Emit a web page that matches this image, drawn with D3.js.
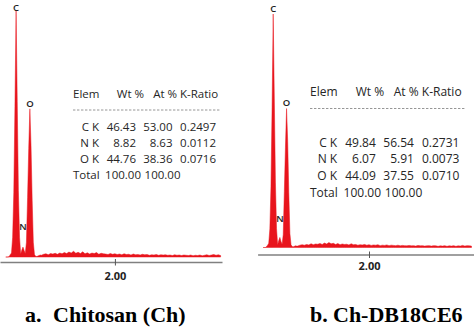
<!DOCTYPE html>
<html>
<head>
<meta charset="utf-8">
<script src="https://cdn.jsdelivr.net/npm/d3@7"></script>
<style>
  html, body { margin: 0; padding: 0; background: #fff; }
  svg { display: block; }
</style>
</head>
<body>
<svg id="chart" width="474" height="332"></svg>
<script>
// ---- EDS spectra -------------------------------------------------------
// Fine channels across the C / N / O K lines, coarse channels across the background.
const lowStart = 0.10, lowStep = 0.02;   // keV
const highStart = 0.72, highStep = 0.04; // keV

const elementLabels = ["C", "N", "O"];
const elementEnergy = [0.28, 0.40, 0.52]; // keV, channel of each peak maximum

// a. Chitosan (Ch)
const countsLowA = [
  0, 0, 0, 2, 10, 16, 80, 260, 610, 1000,
  630, 270, 80, 12, 28, 40, 26, 14, 60, 240,
  440, 600, 450, 230, 60, 10, 3, 2, 4, 6, 8
];
const countsHighA = [
  7, 11, 13, 9, 14, 12, 15, 11, 16, 13,
  18, 14, 20, 16, 23, 15, 19, 14, 21, 13,
  17, 12, 16, 14, 18, 11, 15, 13, 12, 10,
  14, 11, 13, 10, 12, 9, 13, 10, 11, 8,
  12, 9, 10, 8, 11, 9, 10, 7, 9, 8,
  10, 7, 9, 8, 9, 7, 8, 6, 9, 7,
  8, 6, 8, 7, 6, 8, 5, 7, 6, 8,
  5, 7, 9, 6, 8, 10, 7, 9, 6
];

// b. Ch-DB18CE6
const countsLowB = [
  0, 0, 0, 4, 10, 18, 80, 260, 600, 1000,
  640, 280, 80, 12, 30, 43, 26, 14, 55, 240,
  430, 595, 455, 235, 60, 12, 4, 3, 5, 7, 6
];
const countsHighB = [
  6, 10, 12, 10, 13, 11, 16, 12, 15, 14,
  17, 13, 19, 15, 21, 16, 18, 13, 17, 12,
  15, 13, 14, 11, 16, 12, 13, 10, 12, 11,
  13, 10, 12, 9, 11, 10, 12, 8, 10, 9,
  11, 8, 10, 9, 8, 10, 7, 9, 8, 7,
  9, 7, 8, 6, 9, 7, 8, 6, 7, 8,
  6, 8, 7, 5, 7, 6, 8, 5, 7, 6,
  8, 5, 7, 6, 9, 6, 8, 7, 6
];

// ---- Quantification tables ----------------------------------------------
const tableHeaders = ["Elem", "Wt %", "At %", "K-Ratio"];
const elemNames = ["C K", "N K", "O K"];
const wtA = [46.43, 8.82, 44.76];
const atA = [53.00, 8.63, 38.36];
const kA  = [0.2497, 0.0112, 0.0716];
const wtB = [49.84, 6.07, 44.09];
const atB = [56.54, 5.91, 37.55];
const kB  = [0.2731, 0.0073, 0.0710];
const totalLabel = "Total";
const totalWt = 100.00, totalAt = 100.00;

const axisTicks = [2.00];
const captionTags = ["a.", "b."];
const captionNames = ["Chitosan (Ch)", "Ch-DB18CE6"];

// ---- Layout --------------------------------------------------------------
const RED = "#e8141c";
const uiFont = "'Open Sans', 'Noto Sans', 'DejaVu Sans', sans-serif";
const serifFont = "'Liberation Serif', 'Times New Roman', serif";

const panels = [
  {
    low: countsLowA, high: countsHighA, wt: wtA, at: atA, k: kA,
    xRange: [0, 222], xMax: 3.864, yBase: 257, yTop: 10,
    axisY: 262, tickLabelY: 280,
    tx: 73, headY: 98, dashY: 110, row0: 130.5, rowGap: 16.2, s: 1,
    labelGap: [-0.8, 17.5, 1.5],
    tagX: 25, nameX: 53, clipRight: null
  },
  {
    low: countsLowB, high: countsHighB, wt: wtB, at: atB, k: kB,
    xRange: [257.6, 474], xMax: 3.885, yBase: 247.5, yTop: 14,
    axisY: 254.5, tickLabelY: 270,
    tx: 310, headY: 95.5, dashY: 108.5, row0: 146.5, rowGap: 16.9, s: 1.045,
    labelGap: [2, 15.5, 2.5],
    tagX: 310, nameX: 333, clipRight: 466
  }
];

const svg = d3.select("#chart");
svg.append("rect").attr("width", 474).attr("height", 332).attr("fill", "#fff");

const fmt2 = d3.format(".2f"), fmt4 = d3.format(".4f");

panels.forEach((p, pi) => {
  const g = svg.append("g");

  const x = d3.scaleLinear().domain([0, p.xMax]).range(p.xRange);
  const y = d3.scaleLinear().domain([0, 1000]).range([p.yBase, p.yTop]);

  const spectrum = p.low.map((c, i) => ({ e: lowStart + i * lowStep, c }))
    .concat(p.high.map((c, i) => ({ e: highStart + i * highStep, c })));

  // spectrum
  g.append("path")
    .datum(spectrum)
    .attr("d", d3.area().x(d => x(d.e)).y0(y(0)).y1(d => y(d.c)))
    .attr("fill", RED)
    .attr("stroke", RED)
    .attr("stroke-width", 0.5)
    .attr("stroke-linejoin", "round");

  // energy axis
  const axis = g.append("g")
    .attr("transform", `translate(0,${p.axisY})`)
    .call(d3.axisBottom(x).tickValues(axisTicks).tickFormat(fmt2).tickSizeOuter(0));
  axis.select(".domain").attr("stroke", "#808080").attr("stroke-width", 1.5);
  axis.selectAll(".tick line").attr("y1", -3).attr("y2", 3.5)
    .attr("stroke", "#555").attr("stroke-width", 1);
  axis.selectAll(".tick text")
    .attr("y", p.tickLabelY - p.axisY).attr("dy", 0)
    .attr("font-family", uiFont).attr("font-size", 11).attr("font-weight", 700)
    .attr("fill", "#222");

  // peak labels
  elementLabels.forEach((lab, i) => {
    const idx = Math.round((elementEnergy[i] - lowStart) / lowStep);
    g.append("text")
      .attr("x", x(elementEnergy[i]))
      .attr("y", y(p.low[idx]) - p.labelGap[i])
      .attr("text-anchor", "middle")
      .attr("font-family", uiFont).attr("font-size", 9.5).attr("font-weight", 600)
      .attr("fill", "#222")
      .text(lab);
  });

  // quantification table
  const s = p.s;
  const tg = g.append("g")
    .attr("font-family", uiFont).attr("font-size", 11.5 * s).attr("fill", "#262626");
  if (p.clipRight) {
    const cid = "tclip" + pi;
    svg.append("clipPath").attr("id", cid).append("rect")
      .attr("x", 0).attr("y", 0).attr("width", p.clipRight).attr("height", 332);
    tg.attr("clip-path", `url(#${cid})`);
  }
  const put = (txt, dx, yy, anchor) => tg.append("text")
    .attr("x", p.tx + dx * s).attr("y", yy).attr("text-anchor", anchor).text(txt);

  put(tableHeaders[0], 0, p.headY, "start");
  put(tableHeaders[1], 71, p.headY, "end");
  put(tableHeaders[2], 104, p.headY, "end");
  put(tableHeaders[3], 107, p.headY, "start");

  tg.append("line")
    .attr("x1", p.tx).attr("x2", p.tx + 148 * s)
    .attr("y1", p.dashY).attr("y2", p.dashY)
    .attr("stroke", "#8a8a8a").attr("stroke-width", 0.9)
    .attr("stroke-dasharray", "2.4,1.6");

  elemNames.forEach((nm, i) => {
    const yy = p.row0 + i * p.rowGap;
    put(nm, 26, yy, "end");
    put(fmt2(p.wt[i]), 63, yy, "end");
    put(fmt2(p.at[i]), 99.5, yy, "end");
    put(fmt4(p.k[i]), 143, yy, "end");
  });
  const yt = p.row0 + 3 * p.rowGap;
  put(totalLabel, 0, yt, "start");
  put(fmt2(totalWt), 68, yt, "end");
  put(fmt2(totalAt), 107.5, yt, "end");

  // caption
  const cap = svg.append("text")
    .attr("y", 322)
    .attr("font-family", serifFont).attr("font-size", 22).attr("font-weight", 700)
    .attr("fill", "#000");
  cap.append("tspan").attr("x", p.tagX).text(captionTags[pi]);
  cap.append("tspan").attr("x", p.nameX).text(captionNames[pi]);
});
</script>
</body>
</html>
